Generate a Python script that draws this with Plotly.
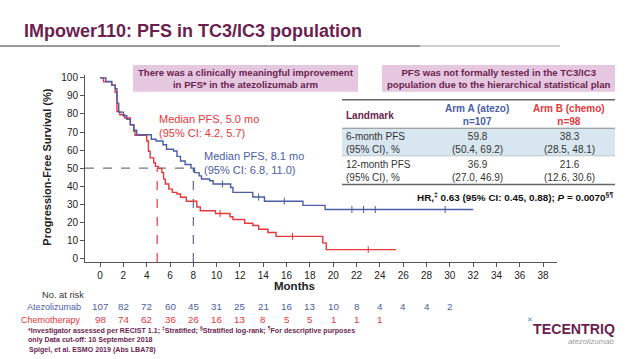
import plotly.graph_objects as go

W, H = 638, 359
BLUE = "#4a5ea8"
RED = "#e5383b"
PLUM = "#6b1f50"
FONT = "Liberation Sans"

# ---- data ----
atezo_t = [0, 0.5, 1.0, 1.3, 1.45, 1.6, 2.0, 2.3, 2.6, 2.9, 3.15, 4.4, 4.8, 5.4, 5.7, 6.3, 6.6, 6.9, 7.3, 7.8,
           8.1, 8.5, 8.7, 9.4, 9.7, 11.2, 11.4, 13.1, 14.1, 17.4, 19.3, 32.0]
atezo_s = [100, 98, 96, 94, 86, 81, 79, 77, 74, 71, 68.5, 66, 65, 63, 60.5, 59.5, 56.5, 54, 52, 50,
           47.5, 45.7, 44, 43, 41.2, 39.3, 36.6, 34, 31.7, 29.4, 27.1, 27.1]
chemo_t = [0, 0.3, 1.0, 1.3, 1.45, 1.7, 2.1, 2.6, 2.9, 3.0, 4.0, 4.15, 4.3, 4.6, 4.75, 5.0, 5.3, 5.45, 5.6, 5.9,
           6.2, 6.6, 6.9, 7.4, 8.3, 8.6, 9.9, 11.15, 11.4, 12.4, 13.1, 13.6, 14.4, 15.1, 19.1, 19.4, 25.4]
chemo_s = [100, 97.8, 96, 92, 81.4, 79.6, 77.8, 74, 70.4, 68.2, 65, 59.4, 55.7, 53, 51, 49.9, 47.5, 43.9, 41.2, 38.4,
           36.6, 35.7, 33.9, 31.7, 28.5, 26.4, 24.9, 23.1, 21.6, 19.5, 18.2, 16.2, 14.4, 12.2, 8.6, 4.9, 4.9]
atezo_cens_t = [10.5, 13.6, 15.8, 21.6, 22.6, 23.6, 29.6]
atezo_cens_s = [41.2, 34, 31.7, 27.1, 27.1, 27.1, 27.1]
chemo_cens_t = [10.3, 16.5, 23.0]
chemo_cens_s = [24.9, 12.2, 4.9]

median_atezo = 8.0
median_chemo = 4.9

risk_times = list(range(0, 32, 2))
risk_atezo = [107, 82, 72, 60, 45, 31, 25, 21, 16, 13, 10, 8, 4, 4, 4, 2]
risk_chemo = [98, 74, 62, 36, 26, 16, 13, 8, 5, 5, 1, 1, 1]

x_ticks = list(range(0, 40, 2))
y_ticks = list(range(0, 110, 10))

table_header = ["Landmark", "Arm A (atezo)<br>n=107", "Arm B (chemo)<br>n=98"]
table_rows = [
    ["6-month PFS<br>(95% CI), %", "59.8<br>(50.4, 69.2)", "38.3<br>(28.5, 48.1)"],
    ["12-month PFS<br>(95% CI), %", "36.9<br>(27.0, 46.9)", "21.6<br>(12.6, 30.6)"],
]

def px(x):
    return x / W

def py(y):
    return 1 - y / H

fig = go.Figure()

fig.add_trace(go.Scatter(x=[-1.29, median_atezo], y=[50, 50], mode="lines",
                         line=dict(color="#777777", width=1.2, dash="dash"), hoverinfo="skip"))
fig.add_trace(go.Scatter(x=[median_chemo, median_chemo], y=[-2, 50], mode="lines",
                         line=dict(color=RED, width=1.2, dash="dash"), hoverinfo="skip"))
fig.add_trace(go.Scatter(x=[median_atezo, median_atezo], y=[-2, 50], mode="lines",
                         line=dict(color="#666688", width=1.2, dash="dash"), hoverinfo="skip"))

fig.add_trace(go.Scatter(x=chemo_t, y=chemo_s, mode="lines", line=dict(color=RED, width=1.4, shape="hv")))
fig.add_trace(go.Scatter(x=atezo_t, y=atezo_s, mode="lines", line=dict(color=BLUE, width=1.4, shape="hv")))
fig.add_trace(go.Scatter(x=atezo_cens_t, y=atezo_cens_s, mode="markers",
                         marker=dict(symbol="line-ns", size=5, line=dict(color=BLUE, width=1))))
fig.add_trace(go.Scatter(x=chemo_cens_t, y=chemo_cens_s, mode="markers",
                         marker=dict(symbol="line-ns", size=5, line=dict(color=RED, width=1))))

fig.update_layout(
    width=W, height=H, margin=dict(l=0, r=0, t=0, b=0),
    paper_bgcolor="white", plot_bgcolor="white", showlegend=False,
    font=dict(family=FONT, color="#222222"),
    xaxis=dict(domain=[px(85), px(557)], range=[-1.29, 39.19], tickvals=x_ticks,
               showline=True, linecolor="#555555", linewidth=1, ticks="outside", ticklen=4,
               tickcolor="#555555", showgrid=False, zeroline=False, tickfont=dict(size=10, color="#222")),
    yaxis=dict(domain=[py(262.7), py(73)], range=[-2.0, 101.6], tickvals=y_ticks,
               showline=True, linecolor="#555555", linewidth=1, ticks="outside", ticklen=4,
               tickcolor="#555555", showgrid=False, zeroline=False, tickfont=dict(size=10, color="#222")),
)

ann = []
def text(x, y, t, size, color="#222222", bold=False, xanchor="left", italic=False, align="left",
         yanchor="middle", family=FONT):
    if bold:
        t = "<b>" + t + "</b>"
    if italic:
        t = "<i>" + t + "</i>"
    ann.append(dict(x=px(x), y=py(y), xref="paper", yref="paper", text=t, showarrow=False,
                    xanchor=xanchor, yanchor=yanchor, align=align,
                    font=dict(size=size, color=color, family=family)))

# title
text(22, 28.5, "IMpower110: PFS in TC3/IC3 population", 18, PLUM, bold=True)

shapes = []
shapes.append(dict(type="line", xref="paper", yref="paper", x0=0, x1=px(420), y0=py(43.5), y1=py(43.5),
                   line=dict(color="#9a9a9a", width=2)))
shapes.append(dict(type="line", xref="paper", yref="paper", x0=px(420), x1=px(560), y0=py(43.5), y1=py(43.5),
                   line=dict(color="#d0d0d0", width=2)))

# pink boxes
for x0, x1 in [(133, 358), (382, 615)]:
    shapes.append(dict(type="rect", xref="paper", yref="paper", x0=px(x0), x1=px(x1), y0=py(90), y1=py(63),
                       fillcolor="#e5c8e0", line=dict(width=0), layer="below"))
text(245.5, 76.5, "There was a clinically meaningful improvement<br>in PFS* in the atezolizumab arm", 9.6, PLUM,
     bold=True, xanchor="center", align="center")
text(498.5, 76.5, "PFS was not formally tested in the TC3/IC3<br>population due to the hierarchical statistical plan",
     9.6, PLUM, bold=True, xanchor="center", align="center")

# table
shapes.append(dict(type="rect", xref="paper", yref="paper", x0=px(342), x1=px(615), y0=py(155), y1=py(127),
                   fillcolor="#d8e6f0", line=dict(width=0), layer="below"))
for yy, wd, col in [(98, 1.5, "#666"), (127, 1, "#888"), (155, 0.6, "#aaa"), (184, 1.5, "#666")]:
    shapes.append(dict(type="line", xref="paper", yref="paper", x0=px(342), x1=px(615), y0=py(yy), y1=py(yy),
                       line=dict(color=col, width=wd)))
text(344, 114, table_header[0], 10, PLUM, bold=True)
text(477, 114, table_header[1], 10, BLUE, bold=True, xanchor="center", align="center")
text(569, 114, table_header[2], 10, RED, bold=True, xanchor="center", align="center")
for i, row in enumerate(table_rows):
    yc = 141.5 + i * 28.5
    text(344, yc, row[0], 10, "#333")
    text(477, yc, row[1], 10, "#333", xanchor="center", align="center")
    text(569, yc, row[2], 10, "#333", xanchor="center", align="center")
text(615, 197, "HR,<sup>‡</sup> 0.63 (95% CI: 0.45, 0.88); <i>P</i> = 0.0070<sup>§¶</sup>", 9.9, "#111",
     bold=True, xanchor="right")

# median labels
text(157, 125, "Median PFS, 5.0 mo<br>(95% CI: 4.2, 5.7)", 11, RED)
text(202, 162, "Median PFS, 8.1 mo<br>(95% CI: 6.8, 11.0)", 11, BLUE)

# axis titles
ann.append(dict(x=px(47), y=py(167), xref="paper", yref="paper", text="<b>Progression-Free Survival (%)</b>",
                showarrow=False, textangle=-90, xanchor="center", yanchor="middle",
                font=dict(size=11, color="#222", family=FONT)))
text(294, 287, "Months", 11.5, "#222", bold=True, xanchor="center")

# number at risk
text(40, 296, "No. at risk", 9.3, "#333")
text(83, 308, "Atezolizumab", 9, BLUE, xanchor="right")
text(83, 321, "Chemotherapy", 9, RED, xanchor="right")
for t, n in zip(risk_times, risk_atezo):
    ann.append(dict(x=t, y=py(308), xref="x", yref="paper", text=str(n), showarrow=False,
                    xanchor="center", yanchor="middle", font=dict(size=9.8, color=BLUE, family=FONT)))
for t, n in zip(risk_times, risk_chemo):
    ann.append(dict(x=t, y=py(321), xref="x", yref="paper", text=str(n), showarrow=False,
                    xanchor="center", yanchor="middle", font=dict(size=9.8, color=RED, family=FONT)))

# footnotes
text(26, 332, "*Investigator assessed per RECIST 1.1; <sup>‡</sup>Stratified; <sup>§</sup>Stratified log-rank; "
     "<sup>¶</sup>For descriptive purposes", 7.1, PLUM, bold=True)
text(26, 342, "only Data cut-off: 10 September 2018", 7.1, PLUM, bold=True)
text(27, 352, "Spigel, et al. ESMO 2019 (Abs LBA78)", 7.1, PLUM, bold=True)

# logo text
text(617, 331, "TECENTRIQ", 14.2, PLUM, bold=True, xanchor="right")
text(617, 343, "atezolizumab", 7.8, "#9a9a9a", italic=True, xanchor="right")
text(530, 321, "✕", 7, "#5a8fc0", xanchor="center")

fig.update_layout(annotations=ann, shapes=shapes)
fig.write_html("out.html", config={"displayModeBar": False},
               post_script="document.body.style.margin='0';document.body.style.padding='0';")
